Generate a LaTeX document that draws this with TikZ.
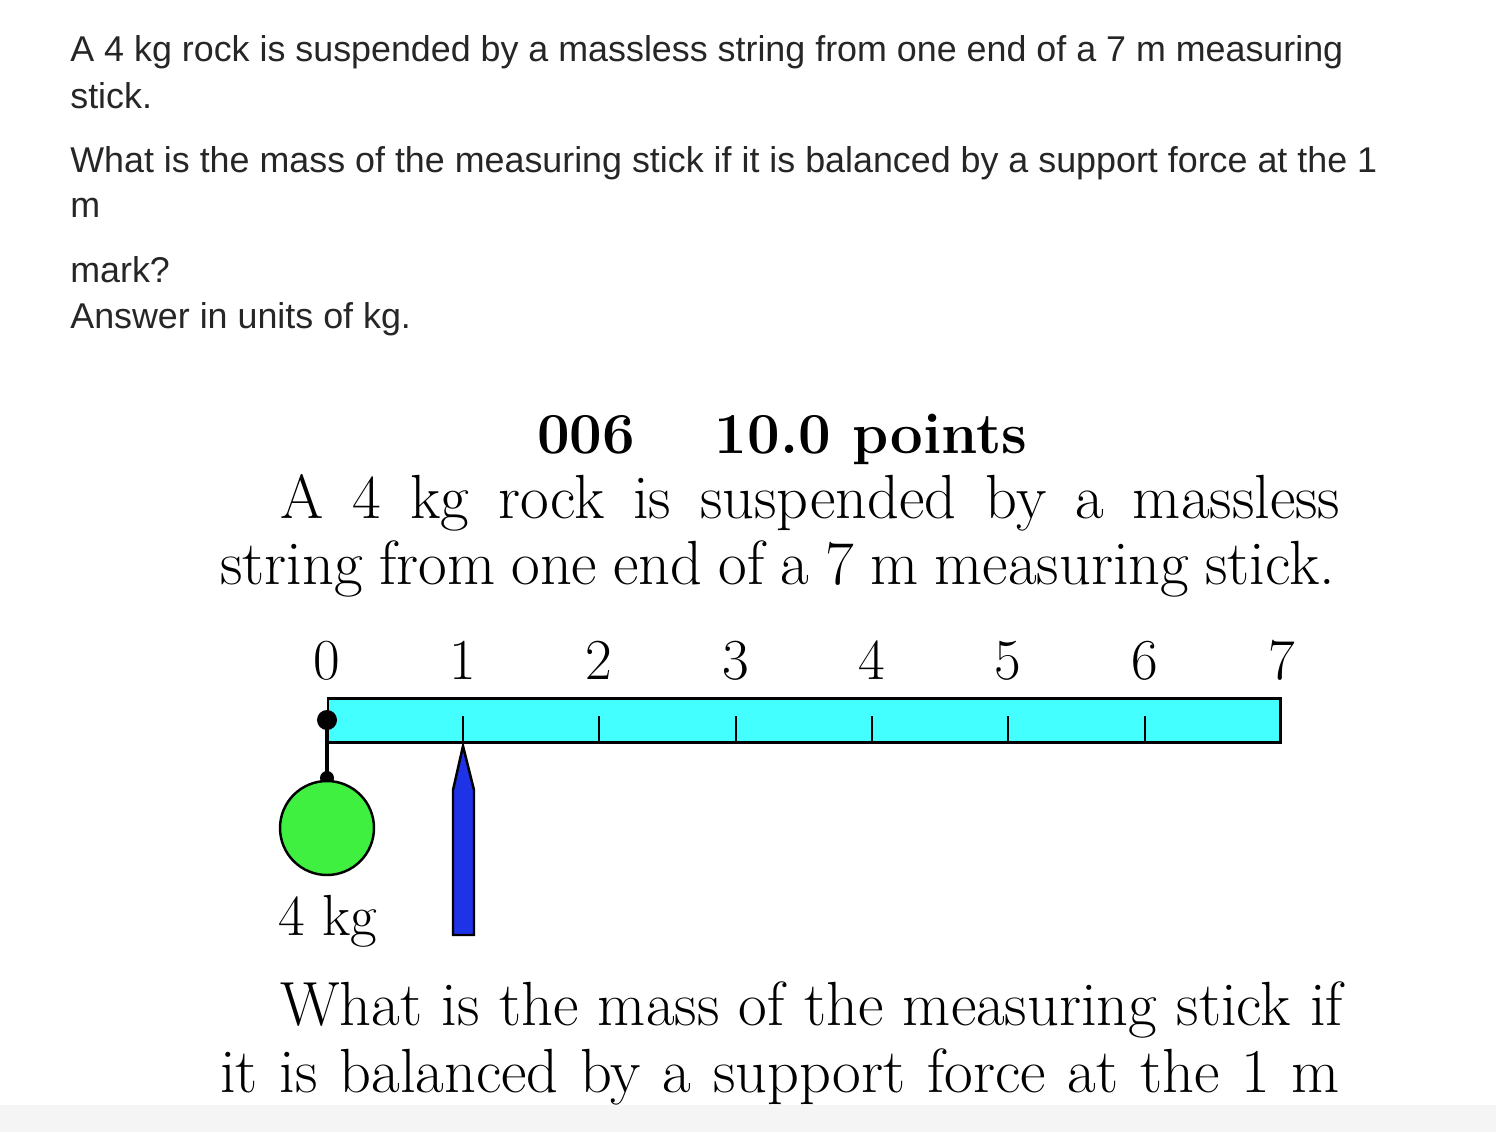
\documentclass[tikz,border=0pt]{standalone}
\usepackage{fontspec}
\newfontfamily\sans{Liberation Sans}
\begin{document}
\begin{tikzpicture}[x=0.02cm,y=-0.02cm,
  stxt/.style={anchor=base west,inner sep=0,font=\sans\fontsize{20.4}{24}\selectfont,text=black!85},
  rtxt/.style={anchor=base west,inner sep=0,font=\fontsize{35.5}{40}\selectfont},
  num/.style={anchor=base,inner sep=0,font=\fontsize{33}{38}\selectfont}]
\useasboundingbox (0,0) rectangle (1496,1132);
\fill[black!4] (0,1105) rectangle (1496,1132);
\node[stxt] (t1) at (70,62) {A 4 kg rock is suspended by a massless string from one end of a 7 m measuring};
\node[stxt] (t2) at (70,109) {stick.};
\node[stxt] (t3) at (70,172) {What is the mass of the measuring stick if it is balanced by a support force at the 1};
\node[stxt] (t4) at (70,217) {m};
\node[stxt] (t5) at (70,282) {mark?};
\node[stxt] (t6) at (70,328) {Answer in units of kg.};
\node[num,font=\bfseries\fontsize{33}{38}\selectfont] (h1) at (586,453) {006};
\node[num,font=\bfseries\fontsize{33}{38}\selectfont] (h2) at (871,453) {10.0 points};
\node[rtxt] (p1) at (280,518) {\makebox[21.2cm][s]{A 4 kg rock is suspended by a massless}};
\node[rtxt] (p2) at (220,584) {\makebox[22.3cm][s]{string from one end of a 7 m measuring stick.}};
\node[rtxt] (q1) at (280,1025) {\makebox[21.26cm][s]{What is the mass of the measuring stick if}};
\node[rtxt] (q2) at (220,1092) {\makebox[22.4cm][s]{it is balanced by a support force at the 1 m}};
\foreach \i/\x in {0/327,1/463,2/599,3/736,4/872,5/1008,6/1145,7/1282}
  \node[num] (n\i) at (\x,679) {\i};
\draw[line width=1.7pt,fill={rgb,255:red,68;green,255;blue,255}] (328,698) rectangle (1280,742);
\foreach \x in {463,599,736,872,1008,1145}
  \draw[line width=1.2pt] (\x,716) -- (\x,742);
\coordinate (top) at (327,720);
\coordinate (bot) at (327,778);
\draw[line width=2.3pt] (top) -- (bot);
\fill (top) circle (10);
\fill (bot) circle (7);
\node[circle,draw,line width=1.4pt,fill={rgb,255:red,64;green,240;blue,64},minimum size=1.88cm,inner sep=0] (rock) at (327,828) {};
\node[num] (m) at (328,935) {4 kg};
\draw[line width=1.4pt,fill={rgb,255:red,30;green,50;blue,230}] (453,935) -- (453,790) -- (463,746) -- (474,790) -- (474,935) -- cycle;
\end{tikzpicture}
\end{document}
